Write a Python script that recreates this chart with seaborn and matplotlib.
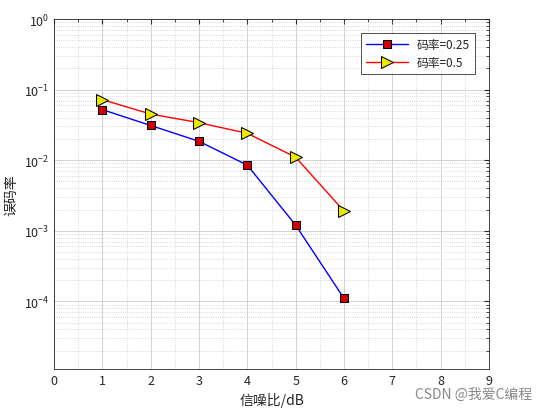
import matplotlib
matplotlib.use("Agg")
import matplotlib.pyplot as plt
import seaborn as sns
import pandas as pd
import numpy as np

snr = [1, 2, 3, 4, 5, 6]
ber_025 = [0.052, 0.031, 0.0185, 0.0085, 0.0012, 0.00011]
ber_05 = [0.072, 0.045, 0.034, 0.024, 0.011, 0.0019]
labels = ["码率=0.25", "码率=0.5"]

sns.set_style("white")
plt.rcParams['font.family'] = ['Noto Sans CJK SC', 'DejaVu Sans']

fig = plt.figure(figsize=(5.38, 4.10), dpi=100)
ax = fig.add_axes([54/538, 40/410, 435/538, 350/410])
df1 = pd.DataFrame({"x": snr, "y": ber_025})
df2 = pd.DataFrame({"x": snr, "y": ber_05})
sns.lineplot(data=df1, x="x", y="y", ax=ax, color="blue", lw=1, marker="s",
             markersize=5.5, markerfacecolor="#d00000", markeredgecolor="black", label=labels[0])
sns.lineplot(data=df2, x="x", y="y", ax=ax, color="red", lw=1, marker=">",
             markersize=8, markerfacecolor="#e8e800", markeredgecolor="black", label=labels[1])
ax.set_yscale("log")
ax.set_xlim(0, 9)
ax.set_ylim(1.1e-5, 1)
ax.set_xticks(range(10))
ax.set_yticks([1e-4, 1e-3, 1e-2, 1e-1, 1])
ax.grid(True, which="major", color="#cccccc", lw=0.6)
ax.grid(True, which="minor", color="#cccccc", lw=0.6, ls=":")
ax.set_xticks(np.arange(0, 9.01, 0.5), minor=True)
for s in ax.spines.values():
    s.set_color("#262626"); s.set_linewidth(0.6)
ax.tick_params(which="both", direction="in", labelsize=9, colors="#262626", top=True, right=True)
ax.set_xlabel("信噪比/dB", fontsize=10)
ax.set_ylabel("误码率", fontsize=10)
leg = ax.legend(loc="upper right", fontsize=8.5, frameon=True, fancybox=False, edgecolor="black",
                borderaxespad=1.2, handlelength=3.5, borderpad=0.4, labelspacing=0.45)
leg.get_frame().set_linewidth(0.6)
fig.text(0.99, 0.02, "CSDN @我爱C编程", ha="right", va="bottom", fontsize=10, color="#888888")
fig.savefig("out.png", dpi=100, facecolor="white")
